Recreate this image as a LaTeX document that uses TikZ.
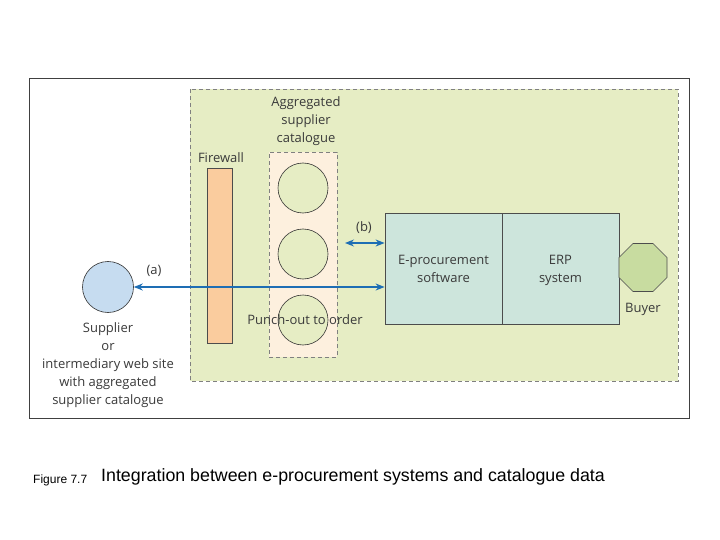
\documentclass[tikz,border=0pt]{standalone}
\usepackage{fontspec}
\setmainfont{Open Sans}
\newfontfamily\captionfont{Liberation Sans}
\usetikzlibrary{arrows.meta, calc, shapes.geometric}
\definecolor{zonegreen}{RGB}{230,237,196}
\definecolor{wallorange}{RGB}{250,204,158}
\definecolor{catpeach}{RGB}{253,240,222}
\definecolor{suppblue}{RGB}{198,220,240}
\definecolor{systeal}{RGB}{205,229,220}
\definecolor{buyergreen}{RGB}{200,220,160}
\definecolor{linkblue}{RGB}{30,110,180}
\definecolor{inkgray}{RGB}{58,58,58}
\tikzset{
  boxtext/.style={align=center, font=\fontsize{13}{18}\selectfont, text=inkgray, inner sep=0pt},
  dashzone/.style={draw=black!50, dash pattern=on 4pt off 3pt, semithick},
  wallbar/.style={draw=black!70, semithick, fill=wallorange, minimum width=25pt, minimum height=175pt},
  dbcircle/.style={circle, draw=black!80, semithick, fill=zonegreen, minimum size=50pt, inner sep=0pt},
  sysbox/.style={draw=black!70, thick, fill=systeal, minimum width=117pt, minimum height=111pt, boxtext},
  wire/.style={<->, >={Stealth[length=9pt, width=7pt]}, line width=1.3pt, linkblue}
}

\begin{document}
\begin{tikzpicture}[x=1pt, y=-1pt]
  \useasboundingbox (0,0) rectangle (720,540);
  \fill[white] (0,0) rectangle (720,540);
  \draw[draw=black!75, semithick] (29,78) rectangle (689,418);
  \draw[dashzone, fill=zonegreen] (190,89) rectangle (678,381);
  % firewall and aggregated catalogue
  \node[wallbar] (firewall) at (219.5,255.5) {};
  \node[boxtext] (firewalltag) at (221,158) {Firewall};
  \node[dashzone, fill=catpeach, minimum width=68pt, minimum height=205pt] (catalog) at (303,254.5) {};
  \node[boxtext] (catalogtag) at (306,121) {Aggregated\\supplier\\catalogue};
  \foreach \y [count=\i] in {188,254,320}
    \node[dbcircle] (cat\i) at (303,\y) {};
  \node[boxtext] (punchout) at (305,320) {Punch-out to order};
  % supplier side
  \node[dbcircle, fill=suppblue, minimum size=51pt] (supplier) at (108,287) {};
  \node[boxtext] (suppliertag) at (108,365) {Supplier\\or\\intermediary web site\\with aggregated\\supplier catalogue};
  % buyer side
  \node[sysbox] (eproc) at (443.5,268.5) {E-procurement\\\smash{software}};
  \node[sysbox] (erp) at (560.5,268.5) {ERP\\\smash{system}};
  \node[regular polygon, regular polygon sides=8, draw=black!70, semithick, fill=buyergreen, minimum size=52pt, inner sep=0pt] (buyer) at (643,267.5) {};
  \node[boxtext] (buyertag) at (643,309) {Buyer};
  % links
  \draw[wire] (supplier.east) -- (supplier.east -| eproc.west);
  \node[boxtext] (atag) at (154,271) {(a)};
  \coordinate (bend) at (345,243);
  \draw[wire] (bend) -- (bend -| eproc.west);
  \node[boxtext] (btag) at (364,228) {(b)};
  % caption
  \node[anchor=west, font=\captionfont\fontsize{12}{14}\selectfont, inner sep=0pt] (fignum) at (33,480) {Figure 7.7};
  \node[anchor=west, font=\captionfont\fontsize{17.8}{20}\selectfont, inner sep=0pt] (figtitle) at (101,477) {Integration between e-procurement systems and catalogue data};
\end{tikzpicture}
\end{document}
